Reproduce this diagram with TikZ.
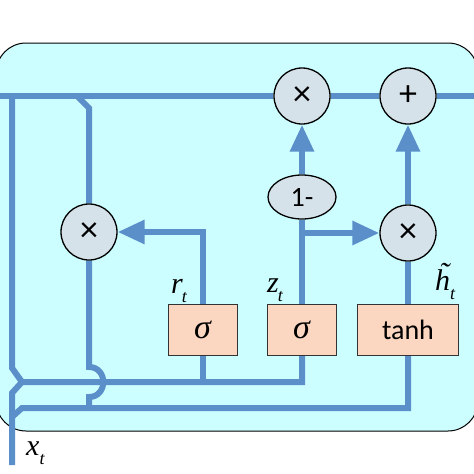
\documentclass[tikz,border=0pt]{standalone}
\usepackage{fontspec}
\setmainfont{Liberation Serif}
\newfontfamily\calfont{Carlito}
\usetikzlibrary{arrows.meta,shapes.geometric,backgrounds}
\definecolor{cellfill}{RGB}{204,254,255}
\definecolor{flowc}{RGB}{91,143,201}
\definecolor{boxfill}{RGB}{251,214,192}
\definecolor{opfill}{RGB}{214,226,234}
\newcommand\sublbl[3][-1pt]{\fontsize{30}{30}\selectfont\textit{#2}\kern#1\raisebox{-9pt}{\fontsize{18}{18}\selectfont\textit{#3}}}
\newcommand\htil{\makebox[0pt][l]{\kern4pt\raisebox{7pt}{˜}}h}
\tikzset{
  flow/.style={draw=flowc,line width=6pt},
  arr/.style={-{Triangle[length=27pt,width=23pt]}},
  opc/.style={circle,draw=black,line width=1.3pt,fill=opfill,minimum size=56pt,inner sep=0pt,font=\calfont\fontsize{36}{36}\selectfont},
  ope/.style={ellipse,draw=black,line width=1.3pt,fill=opfill,minimum width=68pt,minimum height=44pt,inner sep=0pt,font=\calfont\fontsize{28}{28}\selectfont},
  gate/.style={rectangle,draw=black!80,line width=1.3pt,fill=boxfill,minimum width=69pt,minimum height=51pt,inner sep=0pt},
  lbl/.style={inner sep=0pt,anchor=base west}
}
\begin{document}
\begin{tikzpicture}[x=1pt,y=-1pt]
\useasboundingbox (0,0) rectangle (474,474);
\clip (0,0) rectangle (474,474);
% nodes
\node[opc] (m1) at (89,232) {×};
\node[opc] (m2) at (302,96) {×};
\node[opc] (p1) at (408,96) {+};
\node[opc] (m3) at (408,233) {×};
\node[ope] (om) at (302,197) {1-};
\node[gate] (rbox) at (203,330) {\fontsize{34}{34}\selectfont\textit{σ}};
\node[gate] (zbox) at (302,330) {\fontsize{34}{34}\selectfont\textit{σ}};
\node[gate,minimum width=101pt] (tbox) at (408,330) {\calfont\fontsize{28}{28}\selectfont tanh};
\coordinate (tl) at (0,96);
\coordinate (tr) at (474,96);
\coordinate (hl) at (12,96);
\coordinate (xin) at (12,465);
\coordinate (br) at (77,96);
\coordinate (zsplit) at (302,233);
\begin{pgfonlayer}{background}
\fill[white] (0,0) rectangle (474,474);
\draw[fill=cellfill,line width=1pt,rounded corners=30pt] (-4,43) rectangle (478,431);
\draw[flow] (tl) -- (m2.west);
\draw[flow] (m2.east) -- (p1.west);
\draw[flow] (p1.east) -- (tr);
\draw[flow] (hl) -- (12,368) -- (22,382) -| (zbox.south);
\draw[flow] (rbox.south) -- (rbox.south |- 0,382);
\draw[flow] (xin) -- (12,393) -- (22,382);
\draw[flow] (12,417) -- (22,408) -| (tbox.south);
\draw[flow] (br) -- (89,108) -- (m1.north);
\draw[flow] (m1.south) -- (89,367) .. controls (108,367) and (108,397) .. (89,397) -- (89,408);
\draw[flow,arr] (rbox.north) |- (m1.east);
\draw[flow] (zbox.north) -- (om.south);
\draw[flow,arr] (zsplit) -- (m3.west);
\draw[flow,arr] (om.north) -- (m2.south);
\draw[flow] (tbox.north) -- (m3.south);
\draw[flow,arr] (m3.north) -- (p1.south);
\end{pgfonlayer}
% labels
\node[lbl] (lr) at (171,293) {\sublbl[-1pt]{r}{t}};
\node[lbl] (lz) at (267,292) {\sublbl[-1pt]{z}{t}};
\node[lbl] (lh) at (435,290) {\sublbl[0pt]{\htil}{t}};
\node[lbl] (lx) at (26,455) {\sublbl[0pt]{x}{t}};
\end{tikzpicture}
\end{document}
